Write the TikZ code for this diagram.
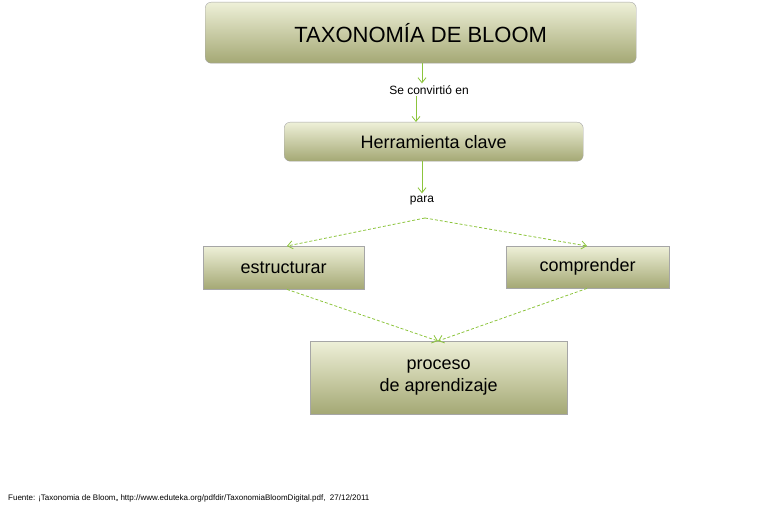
\documentclass[tikz,border=0pt]{standalone}
\usepackage{fontspec}
\setmainfont{Liberation Sans}
\usetikzlibrary{arrows.meta}
\definecolor{ltop}{HTML}{EEF0D8}
\definecolor{lbot}{HTML}{A4A874}
\definecolor{lgreen}{HTML}{8CC43C}
\tikzset{
 box/.style={draw=gray!70, top color=ltop, bottom color=lbot, inner sep=0pt, anchor=north west},
 rbox/.style={box, rounded corners=6pt},
 lbl/.style={inner sep=1pt, font=\fontsize{12}{14}\selectfont},
 conn/.style={draw=lgreen, thick, -{Straight Barb[length=5pt,width=8pt]}},
 dconn/.style={conn, densely dashed},
}
\begin{document}
\begin{tikzpicture}[x=1pt,y=-1pt]
\useasboundingbox (0,0) rectangle (776,516);
\node[rbox, minimum width=431pt, minimum height=61pt, font=\fontsize{22}{26}\selectfont] (t) at (205,2) {TAXONOMÍA DE BLOOM};
\node[lbl] (s) at (429,90) {Se convirtió en};
\node[rbox, minimum width=299pt, minimum height=39pt, font=\fontsize{18}{22}\selectfont] (h) at (284,122) {Herramienta clave};
\node[lbl] (p) at (422,201) {para};
\coordinate (sp) at (425,218);
\node[box, minimum width=161pt, minimum height=43pt, font=\fontsize{18}{22}\selectfont] (e) at (203,246) {estructurar};
\node[box, minimum width=163pt, minimum height=42pt, font=\fontsize{18}{22}\selectfont] (c) at (506,246) {comprender};
\node[box, minimum width=257pt, minimum height=73pt, align=center, font=\fontsize{18}{22}\selectfont] (pr) at (310,341) {proceso\\de aprendizaje};
\node[anchor=west, inner sep=0pt, font=\fontsize{8}{10}\selectfont] (f) at (8,498) {Fuente: ¡Taxonomia de Bloom,, http://www.eduteka.org/pdfdir/TaxonomiaBloomDigital.pdf, \ 27/12/2011};
\draw[conn] (t.south -| 422,0) -- ([yshift=1pt]s.north -| 422,0);
\draw[conn] (s.south -| 416,0) -- (h.north -| 416,0);
\draw[conn] (h.south -| 422,0) -- ([yshift=2pt]p.north -| 422,0);
\draw[dconn] (sp) -- (e.north -| 287,0);
\draw[dconn] (sp) -- (c.north -| 587,0);
\draw[dconn] (e.south -| 287,0) -- (pr.north -| 438,0);
\draw[dconn] (c.south -| 587,0) -- (pr.north -| 438,0);
\end{tikzpicture}
\end{document}
